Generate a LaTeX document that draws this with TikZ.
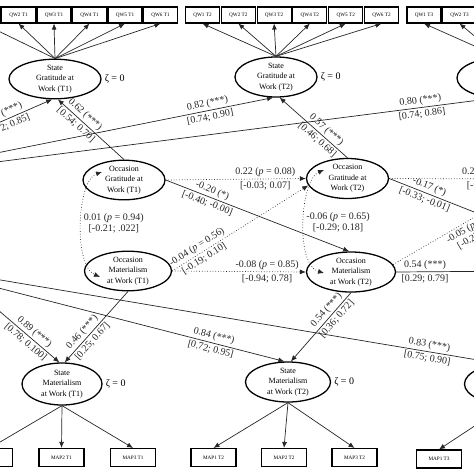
\documentclass[tikz,border=0pt]{standalone}
\usepackage{fontspec}
\setmainfont{Liberation Serif}
\usetikzlibrary{arrows.meta,shapes.geometric,positioning,calc}

\begin{document}
\begin{tikzpicture}[x=1pt, y=-1pt,
  latent/.style={draw, ellipse, line width=1.3pt, inner sep=0pt, align=center,
                 font=\fontsize{8}{10.5}\selectfont},
  ind/.style={draw, line width=1.1pt, inner sep=0pt, font=\fontsize{5.2}{6}\selectfont},
  coef/.style={font=\fontsize{10}{11}\selectfont, inner sep=2pt},
  reg/.style={-{Latex[length=6pt, width=5pt]}, line width=0.7pt, black!85},
  ns/.style={reg, dotted},
  cov/.style={{Latex[length=6pt, width=5pt]}-{Latex[length=6pt, width=5pt]},
              line width=0.7pt, dotted, black!85}
]
  \useasboundingbox (0,0) rectangle (474,474);
  \clip (0,0) rectangle (474,474);

  % latent states and occasion factors
  \node[latent, minimum width=92, minimum height=38] (sg1) at (55,79) {State\\Gratitude at\\Work (T1)};
  \node[latent, minimum width=82, minimum height=40] (sg2) at (276,77) {State\\Gratitude at\\Work (T2)};
  \node[latent, minimum width=86, minimum height=40] (sg3) at (500,78) {State\\Gratitude at\\Work (T3)};
  \node[latent, minimum width=82, minimum height=37] (og1) at (124,180) {Occasion\\Gratitude at\\Work (T1)};
  \node[latent, minimum width=82, minimum height=40] (og2) at (347.5,178.5) {Occasion\\Gratitude at\\Work (T2)};
  \node[latent, minimum width=87, minimum height=39] (om1) at (128,271) {Occasion\\Materialism\\at Work (T1)};
  \node[latent, minimum width=89, minimum height=40] (om2) at (351,272) {Occasion\\Materialism\\at Work (T2)};
  \node[latent, minimum width=80, minimum height=42] (sm1) at (62,384) {State\\Materialism\\at Work (T1)};
  \node[latent, minimum width=85, minimum height=40] (sm2) at (288,382) {State\\Materialism\\at Work (T2)};
  \node[latent, minimum width=85, minimum height=40] (sm3) at (507,384) {State\\Materialism\\at Work (T3)};

  \node[coef, right=1pt of sg1] (zsg1) {ζ = 0};
  \node[coef, right=1pt of sg2] (zsg2) {ζ = 0};
  \node[coef, right=1pt of sm1] (zsm1) {ζ = 0};
  \node[coef, right=1pt of sm2] (zsm2) {ζ = 0};

  % indicators
  \foreach \i in {1,...,6} {
    \node[ind, minimum width=34, minimum height=16] (qwA\i) at ({-17+35.5*(\i-1)},15) {QW\i\ T1};
    \node[ind, minimum width=34, minimum height=16] (qwB\i) at ({202.5+35.8*(\i-1)},15) {QW\i\ T2};
    \node[ind, minimum width=34, minimum height=16] (qwC\i) at ({424+35.5*(\i-1)},15) {QW\i\ T3};
    \draw[reg] (sg1.north) -- (qwA\i.south);
    \draw[reg] (sg2.north) -- (qwB\i.south);
    \draw[reg] (sg3.north) -- (qwC\i.south);
  }
  \foreach \i in {1,2,3} {
    \node[ind, minimum width=45, minimum height=18] (mapA\i) at ({-10+71.5*(\i-1)},457.5) {MAP\i\ T1};
    \node[ind, minimum width=45, minimum height=18] (mapB\i) at ({213.5+70.5*(\i-1)},457.5) {MAP\i\ T2};
    \node[ind, minimum width=45, minimum height=18] (mapC\i) at ({439+71*(\i-1)},459) {MAP\i\ T3};
    \draw[reg] (sm1.south) -- (mapA\i.north);
    \draw[reg] (sm2.south) -- (mapB\i.north);
    \draw[reg] (sm3.south) -- (mapC\i.north);
  }

  % ends outside the frame
  \coordinate (tg) at (-128,178);
  \coordinate (tm) at (-95,264);
  \coordinate (tmA) at (-30,286);
  \coordinate (ogT3w) at (530,179);
  \coordinate (ogT3sw) at (535,182);
  \coordinate (omT3nw) at (540,238);
  \coordinate (omT3w) at (530,271);

  % trait to state paths
  \draw[reg] (tg) -- node[coef, pos=0.74, sloped, above]{0.78 (***)} node[coef, pos=0.74, sloped, below]{[0.72; 0.85]} (sg1.262);
  \draw[reg] (tg) -- node[coef, pos=0.84, sloped, above]{0.82 (***)} node[coef, pos=0.84, sloped, below]{[0.74; 0.90]} (sg2.262);
  \draw[reg] (tg) -- node[coef, pos=0.885, sloped, above]{0.80 (***)} node[coef, pos=0.885, sloped, below]{[0.74; 0.86]} (sg3.250);
  \draw[reg] (tmA) -- node[coef, pos=0.67, sloped, above]{0.89 (***)} node[coef, pos=0.67, sloped, below]{[0.78; 0.100]} (sm1.97);
  \draw[reg] (tm) -- node[coef, pos=0.81, sloped, above]{0.84 (***)} node[coef, pos=0.81, sloped, below]{[0.72; 0.95]} (sm2.100);
  \draw[reg] (tm) -- node[coef, pos=0.88, sloped, above]{0.83 (***)} node[coef, pos=0.88, sloped, below]{[0.75; 0.90]} (sm3.110);

  % occasion to state paths
  \draw[reg] (og1.north) -- node[coef, pos=0.66, sloped, above]{0.62 (***)} node[coef, pos=0.66, sloped, below]{[0.54; 0.70]} (sg1.278);
  \draw[reg] (og2.north) -- node[coef, pos=0.38, sloped, above]{0.57 (***)} node[coef, pos=0.38, sloped, below]{[0.46; 0.68]} (sg2.280);
  \draw[reg] (om1.south) -- node[coef, pos=0.64, sloped, above]{0.46 (***)} node[coef, pos=0.64, sloped, below]{[0.25; 0.67]} (sm1.83);
  \draw[reg] (om2.south) -- node[coef, pos=0.32, sloped, above]{0.54 (***)} node[coef, pos=0.32, sloped, below]{[0.36; 0.72]} (sm2.82);

  % auto- and cross-lagged paths
  \draw[ns] (og1.east) -- node[coef, pos=0.71, above]{0.22 (\textit{p} = 0.08)} node[coef, pos=0.71, below]{[-0.03; 0.07]} (og2.west);
  \draw[reg] (og1.east) -- node[coef, pos=0.24, sloped, above]{-0.20 (*)} node[coef, pos=0.24, sloped, below]{[-0.40; -0.00]} (om2.95);
  \draw[ns] (om1.east) -- node[coef, pos=0.21, sloped, above]{-0.04 (\textit{p} = 0.56)} node[coef, pos=0.21, sloped, below]{[-0.19; 0.10]} (og2.190);
  \draw[ns] (om1.east) -- node[coef, pos=0.71, above]{-0.08 (\textit{p} = 0.85)} node[coef, pos=0.71, below]{[-0.94; 0.78]} (om2.west);
  \draw[ns] (og2.east) -- node[coef, pos=0.73, above]{0.21 (\textit{p} = 0.09)} node[coef, pos=0.73, below]{[-0.04; 0.06]} (ogT3w);
  \draw[reg] (og2.east) -- node[coef, pos=0.25, sloped, above]{-0.17 (*)} node[coef, pos=0.25, sloped, below]{[-0.33; -0.01]} (omT3nw);
  \draw[ns] (om2.10) -- node[coef, pos=0.55, sloped, below, align=center]{-0.05 (\textit{p} = 0.44)\\{}[-0.27; 0.17]} (ogT3sw);
  \draw[reg] (om2.east) -- node[coef, pos=0.216, above]{0.54 (***)} node[coef, pos=0.216, below]{[0.29; 0.79]} (omT3w);

  % covariances
  \draw[cov] ($(og1.center)+(-22,-8)$) .. controls (77,180) and (73,265) ..
    node[coef, pos=0.5, right, align=center]{0.01 (\textit{p} = 0.94)\\{}[-0.21; .022]} ($(om1.center)+(-28,6)$);
  \draw[cov] ($(og2.center)+(-23.5,-8.5)$) .. controls (300,180) and (295,265) ..
    node[coef, pos=0.5, right, align=center]{-0.06 (\textit{p} = 0.65)\\{}[-0.29; 0.18]} ($(om2.center)+(-27,1)$);
\end{tikzpicture}
\end{document}
